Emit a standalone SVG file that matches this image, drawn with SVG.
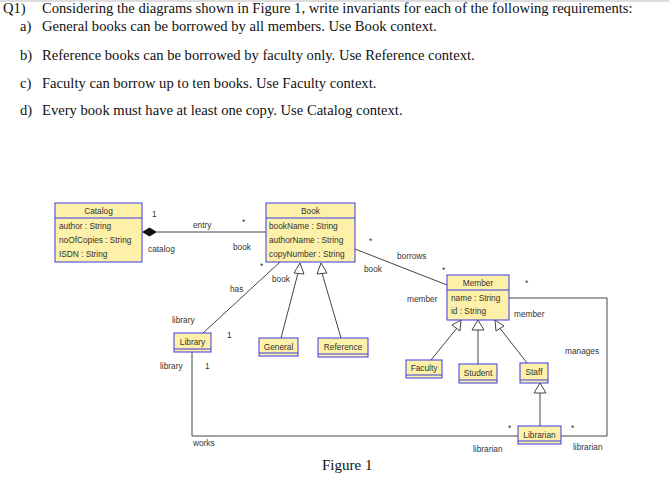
<svg xmlns="http://www.w3.org/2000/svg" width="669" height="487" viewBox="0 0 669 487">
<style>
.q{font-family:"Liberation Serif",serif;font-size:14.6px;fill:#111}
.t{font-family:"Liberation Sans",Arial,sans-serif;font-size:8.3px;fill:#333}
.c{text-anchor:middle}
.b{fill:#fdf0a8;stroke:#3a3ae8;stroke-width:1}
.l{fill:none;stroke:#444;stroke-width:1}
.tri{fill:#fff;stroke:#444;stroke-width:1}
</style>
<rect width="669" height="487" fill="#fff"/>
<line x1="0" y1="1" x2="669" y2="1" stroke="#bbb" stroke-width="1"/>
<text class="q" x="3" y="13">Q1)</text><text class="q" x="42" y="13">Considering the diagrams shown in Figure 1, write invariants for each of the following requirements:</text>
<text class="q" x="20" y="31">a)</text><text class="q" x="42" y="31">General books can be borrowed by all members. Use Book context.</text>
<text class="q" x="20" y="60">b)</text><text class="q" x="42" y="60">Reference books can be borrowed by faculty only. Use Reference context.</text>
<text class="q" x="20" y="88">c)</text><text class="q" x="42" y="88">Faculty can borrow up to ten books. Use Faculty context.</text>
<text class="q" x="20" y="115">d)</text><text class="q" x="42" y="115">Every book must have at least one copy. Use Catalog context.</text>
<g id="connectors">
<line class="l" x1="157" y1="232" x2="266" y2="232"/>
<polygon points="142,232 149.5,227.5 157,232 149.5,236.5" fill="#111"/>
<line class="l" x1="355" y1="249" x2="447" y2="285"/>
<line class="l" x1="280" y1="262" x2="203" y2="333"/>
<line class="l" x1="281" y1="338" x2="298" y2="273"/>
<polygon class="tri" points="300,263 294,273 304,274"/>
<line class="l" x1="341" y1="338" x2="322" y2="273"/>
<polygon class="tri" points="321,263 317,274 327,273"/>
<line class="l" x1="431" y1="360" x2="457" y2="328"/>
<polygon class="tri" points="461,320 452,325 460,331"/>
<line class="l" x1="478" y1="364" x2="478" y2="330"/>
<polygon class="tri" points="478,320 472,330 484,330"/>
<line class="l" x1="527" y1="363" x2="499" y2="327"/>
<polygon class="tri" points="495,320 496,331 504,326"/>
<line class="l" x1="540" y1="426" x2="540" y2="393"/>
<polygon class="tri" points="540,383 534,393 546,393"/>
<polyline class="l" points="509,298 607,298 607,436 561,436"/>
<polyline class="l" points="192,352 192,436 518,436"/>
</g>
<g id="catalog"><rect class="b" x="55" y="203" width="87" height="59"/><line class="b" x1="55" y1="218" x2="142" y2="218"/>
<text class="t c" x="98.5" y="214">Catalog</text><text class="t" x="59" y="229">author : String</text><text class="t" x="59" y="243">noOfCopies : String</text><text class="t" x="59" y="257">ISDN : String</text></g>
<g id="book"><rect class="b" x="266" y="203" width="89" height="59"/><line class="b" x1="266" y1="218" x2="355" y2="218"/>
<text class="t c" x="310.5" y="214">Book</text><text class="t" x="269" y="229">bookName : String</text><text class="t" x="269" y="243">authorName : String</text><text class="t" x="269" y="257">copyNumber : String</text></g>
<g id="library"><rect class="b" x="174" y="333" width="37" height="19"/><line class="b" x1="174" y1="349" x2="211" y2="349"/><text class="t c" x="192.5" y="345">Library</text></g>
<g id="general"><rect class="b" x="259" y="338" width="39" height="18"/><line class="b" x1="259" y1="353" x2="298" y2="353"/><text class="t c" x="278.5" y="350">General</text></g>
<g id="reference"><rect class="b" x="318" y="338" width="50" height="19"/><line class="b" x1="318" y1="354" x2="368" y2="354"/><text class="t c" x="343" y="350">Reference</text></g>
<g id="member"><rect class="b" x="447" y="275" width="62" height="45"/><line class="b" x1="447" y1="290" x2="509" y2="290"/>
<text class="t c" x="478" y="286">Member</text><text class="t" x="451" y="301">name : String</text><text class="t" x="451" y="314">id : String</text></g>
<g id="faculty"><rect class="b" x="406" y="360" width="36" height="18"/><line class="b" x1="406" y1="375" x2="442" y2="375"/><text class="t c" x="424" y="371">Faculty</text></g>
<g id="student"><rect class="b" x="459" y="364" width="38" height="19"/><line class="b" x1="459" y1="380" x2="497" y2="380"/><text class="t c" x="478" y="376">Student</text></g>
<g id="staff"><rect class="b" x="520" y="363" width="28" height="20"/><line class="b" x1="520" y1="380" x2="548" y2="380"/><text class="t c" x="534" y="375">Staff</text></g>
<g id="librarian"><rect class="b" x="518" y="426" width="43" height="18"/><line class="b" x1="518" y1="441" x2="561" y2="441"/><text class="t c" x="539.5" y="438">Librarian</text></g>
<g id="labels">
<text class="t" x="152" y="217">1</text><text class="t" x="193" y="228">entry</text><text class="t" x="242" y="225">*</text>
<text class="t" x="148" y="252">catalog</text><text class="t" x="233" y="250">book</text>
<text class="t" x="260" y="269">*</text><text class="t" x="272" y="282">book</text><text class="t" x="230" y="292">has</text>
<text class="t" x="172" y="323">library</text><text class="t" x="227" y="338">1</text>
<text class="t" x="160" y="369">library</text><text class="t" x="205" y="369">1</text>
<text class="t" x="369" y="244">*</text><text class="t" x="397" y="259">borrows</text><text class="t" x="364" y="272">book</text><text class="t" x="442" y="273">*</text>
<text class="t" x="407" y="302">member</text><text class="t" x="525" y="286">*</text><text class="t" x="514" y="317">member</text>
<text class="t" x="565" y="354">manages</text>
<text class="t" x="508" y="431">*</text><text class="t" x="571" y="431">*</text>
<text class="t" x="193" y="446">works</text><text class="t" x="473" y="452">librarian</text><text class="t" x="573" y="450">librarian</text>
</g>
<text class="q" x="322" y="470" style="font-size:15px">Figure 1</text>
</svg>
